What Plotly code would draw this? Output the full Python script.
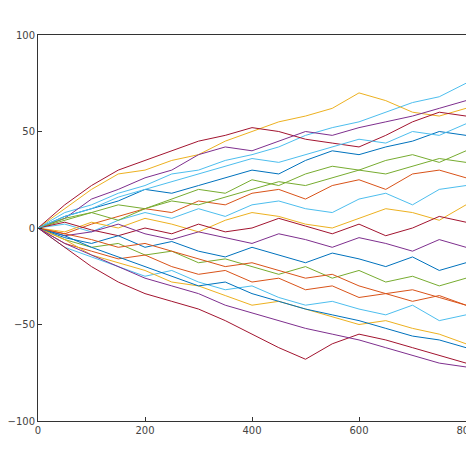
import plotly.graph_objects as go

# step index, sampled every 50 steps
steps = [0, 50, 100, 150, 200, 250, 300, 350, 400, 450, 500,
         550, 600, 650, 700, 750, 800, 850, 900, 950, 1000]

# hand-read approximate paths of a subset of the walks
walks = [
    [0, 8, 12, 18, 22, 28, 30, 35, 38, 42, 48, 52, 55, 60, 65, 68, 75, 80, 88, 85, 90],
    [0, 10, 20, 28, 30, 35, 38, 45, 50, 55, 58, 62, 70, 66, 60, 58, 62, 65, 70, 68, 72],
    [0, 12, 22, 30, 35, 40, 45, 48, 52, 50, 46, 44, 42, 48, 55, 60, 58, 52, 55, 60, 58],
    [0, 5, 15, 20, 26, 30, 38, 42, 40, 45, 50, 48, 52, 55, 58, 62, 66, 70, 65, 68, 72],
    [0, 6, 10, 14, 20, 18, 22, 26, 30, 28, 35, 40, 38, 42, 45, 50, 48, 52, 55, 50, 48],
    [0, 4, 8, 12, 10, 15, 20, 18, 25, 22, 28, 32, 30, 35, 38, 34, 40, 44, 42, 46, 50],
    [0, -3, 2, 6, 10, 8, 14, 12, 18, 20, 15, 22, 25, 20, 28, 30, 26, 32, 35, 30, 34],
    [0, 2, -2, 4, 8, 5, 10, 6, 12, 14, 10, 8, 15, 18, 12, 20, 22, 18, 25, 28, 24],
    [0, -2, 3, 0, 5, 2, -2, 4, 8, 6, 2, 0, 5, 10, 8, 4, 12, 15, 10, 14, 18],
    [0, 3, -1, -4, 0, -3, 2, -2, 0, 5, 1, -3, 2, -4, 0, 6, 3, -2, 2, 5, 0],
    [0, -4, -2, 2, -3, -6, -2, -5, -8, -3, -6, -10, -5, -8, -12, -6, -10, -4, -8, -12, -9],
    [0, -5, -8, -4, -10, -7, -12, -15, -10, -14, -18, -13, -16, -20, -15, -22, -18, -14, -20, -24, -19],
    [0, -6, -10, -8, -14, -12, -18, -16, -20, -24, -20, -26, -22, -28, -25, -30, -26, -32, -28, -24, -30],
    [0, -8, -12, -16, -14, -20, -24, -22, -28, -26, -32, -30, -36, -34, -38, -35, -40, -42, -38, -44, -40],
    [0, -10, -15, -20, -25, -22, -28, -32, -30, -36, -40, -38, -42, -45, -40, -48, -45, -50, -55, -52, -50],
    [0, -6, -14, -18, -22, -28, -30, -35, -40, -38, -42, -46, -50, -48, -52, -55, -60, -58, -62, -65, -60],
    [0, -10, -20, -28, -34, -38, -42, -48, -55, -62, -68, -60, -55, -58, -62, -66, -70, -68, -72, -70, -75],
    [0, -8, -14, -20, -26, -30, -34, -40, -44, -48, -52, -55, -58, -62, -66, -70, -72, -76, -80, -78, -82],
    [0, -4, -10, -15, -20, -25, -30, -28, -34, -38, -42, -45, -48, -52, -56, -58, -62, -65, -68, -64, -70],
    [0, 5, 8, 4, 10, 14, 12, 16, 20, 24, 22, 26, 30, 28, 32, 36, 34, 38, 40, 42, 45],
    [0, -3, -6, -10, -8, -12, -16, -20, -18, -22, -26, -24, -30, -34, -32, -36, -40, -44, -42, -48, -50],
    [0, 6, 10, 16, 20, 24, 28, 32, 36, 34, 38, 42, 46, 44, 50, 48, 54, 58, 56, 60, 62],
]

colors = ['#4DBEEE', '#EDB120', '#A2142F', '#7E2F8E', '#0072BD', '#77AC30', '#D95319']

fig = go.Figure()
for i, w in enumerate(walks):
    fig.add_trace(go.Scatter(x=steps, y=w, mode='lines',
                             line=dict(color=colors[i % len(colors)], width=1)))

axis_style = dict(showgrid=False, zeroline=False, showline=True, mirror=True,
                  linecolor='#333', linewidth=1, ticks='inside', ticklen=4,
                  tickcolor='#333', automargin=False,
                  tickfont=dict(family='DejaVu Sans', size=10, color='#444'))
fig.update_xaxes(range=[0, 1000], dtick=200, **axis_style)
fig.update_yaxes(range=[-100, 100], dtick=50, **axis_style)
fig.update_layout(width=620, height=474, showlegend=False,
                  margin=dict(l=30, r=55, t=27, b=61),
                  plot_bgcolor='white', paper_bgcolor='white')

fig.write_html("out.html")
